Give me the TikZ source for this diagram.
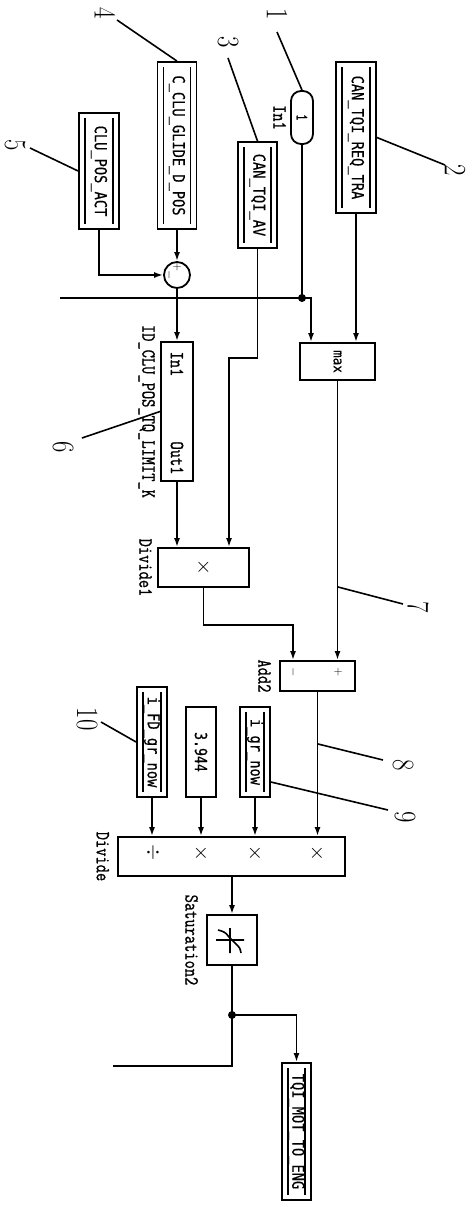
\documentclass[tikz,border=0pt]{standalone}
\usepackage{fontspec}
\usepackage{tikz}
\usetikzlibrary{arrows.meta,positioning}
\newfontfamily\tagfam[FakeBold=0.6]{DejaVu Sans Mono}
\newfontfamily\blkfam[FakeBold=1.2]{Latin Modern Mono}

% text turned a quarter turn and squeezed along its line
\newcommand{\vtext}[2][0.8]{\rotatebox{-90}{\scalebox{#1}[1]{#2}}}

\tikzset{
  blk/.style={draw, line width=1.8pt, inner sep=0pt, rectangle},
  tagbox/.style={blk, font=\tagfam\fontsize{16.5}{16.5}\selectfont,
    path picture={
      \draw[line width=1.6pt] ([xshift=6pt,yshift=-5pt]path picture bounding box.north west) -- ([xshift=6pt,yshift=5pt]path picture bounding box.south west);
      \draw[line width=1.6pt] ([xshift=-6pt,yshift=-5pt]path picture bounding box.north east) -- ([xshift=-6pt,yshift=5pt]path picture bounding box.south east);
    }},
  blkname/.style={font=\blkfam\fontsize{20}{20}\selectfont, inner sep=0pt},
  signtext/.style={font=\fontsize{13}{13}\selectfont, inner sep=0pt},
  sig/.style={line width=1.8pt, -{Latex[length=9pt,width=6pt]}},
  wire/.style={line width=1.8pt},
  leader/.style={line width=1.6pt},
  callout/.style={font=\fontsize{31}{31}\selectfont, inner sep=0pt},
  jdot/.style={circle, fill, inner sep=0pt, minimum size=8pt},
}

\begin{document}
\begin{tikzpicture}[x=1pt, y=-1pt]
    \useasboundingbox (0,0) rectangle (474,1207);

    % Source blocks along the top
    \node[tagbox, minimum width=40pt, minimum height=116pt] (posact) at (99,171) {\vtext[0.83]{CLU\_POS\_ACT}};
    \node[tagbox, minimum width=39pt, minimum height=167pt] (glide) at (177,145.5) {\vtext[0.83]{C\_CLU\_GLIDE\_D\_POS}};
    \node[tagbox, minimum width=39pt, minimum height=106pt] (tqiav) at (257.5,195) {\vtext[0.83]{CAN\_TQI\_AV}};
    \node[tagbox, minimum width=40pt, minimum height=151pt] (reqtra) at (356,137.5) {\vtext[0.83]{CAN\_TQI\_REQ\_TRA}};

    % Inport
    \node[blk, rounded corners=10pt, minimum width=22pt, minimum height=53pt, font=\blkfam\fontsize{17}{17}\selectfont] (inport) at (302,117.5) {\vtext{1}};
    \node[blkname, left=4pt of inport] (inportname) {\vtext{In1}};

    % Sum of glide position and actual position
    \node[draw, circle, line width=1.8pt, minimum size=26pt, inner sep=0pt] (sum) at (177,275) {};
    \node[signtext] (sumplus) at (177,267) {\vtext[1]{$+$}};
    \node[signtext] (summinus) at (169,275) {\vtext[1]{$-$}};

    % Subsystem
    \node[blk, minimum width=32pt, minimum height=139pt] (idclu) at (177,411.5) {};
    \node[blkname] (idcluin) at (177,364) {\vtext{In1}};
    \node[blkname] (idcluout) at (177,458) {\vtext{Out1}};
    \node[blkname, left=5pt of idclu] (idcluname) {\vtext{ID\_CLU\_POS\_TQ\_LIMIT\_K}};

    % max and product
    \node[blk, minimum width=75pt, minimum height=37pt, font=\tagfam\fontsize{14}{14}\selectfont] (max) at (337.5,361.5) {\vtext[0.9]{max}};
    \node[blk, minimum width=91pt, minimum height=39pt, font=\fontsize{20}{20}\selectfont] (div1) at (203.5,567.5) {$\times$};
    \node[blkname, left=5pt of div1] (div1name) {\vtext{Divide1}};

    % Add2
    \node[blk, minimum width=75pt, minimum height=30pt] (add2) at (317.5,676) {};
    \node[signtext] (addminus) at (293,672) {\vtext[1]{$-$}};
    \node[signtext] (addplus) at (338,672) {\vtext[1]{$+$}};
    \node[blkname, left=8pt of add2] (add2name) {\vtext{Add2}};

    % Gear ratios and constant
    \node[tagbox, minimum width=30pt, minimum height=110pt] (ifd) at (152,742) {\vtext[0.83]{i\_FD\_gr\_now}};
    \node[blk, minimum width=30pt, minimum height=90pt, font=\tagfam\fontsize{16.5}{16.5}\selectfont] (const) at (201,752) {\vtext[0.8]{3.944}};
    \node[tagbox, minimum width=30pt, minimum height=90pt] (igr) at (255,752) {\vtext[0.83]{i\_gr\_now}};

    % Divide
    \node[blk, minimum width=227pt, minimum height=39pt] (divide) at (231.5,856.5) {};
    \node[signtext, font=\fontsize{20}{20}\selectfont] (dvsign) at (153,853) {\vtext[1]{$\div$}};
    \node[signtext, font=\fontsize{20}{20}\selectfont] (mlsigna) at (201,853) {$\times$};
    \node[signtext, font=\fontsize{20}{20}\selectfont] (mlsignb) at (255,853) {$\times$};
    \node[signtext, font=\fontsize{20}{20}\selectfont] (mlsignc) at (317,853) {$\times$};
    \node[blkname, left=8pt of divide] (dividename) {\vtext{Divide}};

    % Saturation
    \node[blk, minimum width=50pt, minimum height=50pt] (sat) at (232,940) {};
    \draw[line width=1.6pt, shift={(sat.center)}] (-16,0) -- (12,0) (-2,-12) -- (-2,13)
        (-14,-10) .. controls (-7,-8) .. (-3,-3) -- (4,4) .. controls (8,8) .. (9,13);
    \node[blkname, left=8pt of sat] (satname) {\vtext{Saturation2}};

    % Output
    \node[tagbox, minimum width=29pt, minimum height=137pt] (tqimot) at (296.5,1131.5) {\vtext[0.83]{TQI\_MOT\_TO\_ENG}};

    % Bend points and branch points
    \coordinate (jin) at (302,298);
    \coordinate (freeL) at (60,298);
    \coordinate (avbend) at (229,358);
    \coordinate (d1bend) at (293,625);
    \coordinate (jout) at (232,1015);
    \coordinate (freeR) at (113,1066);
    \coordinate (w7) at (338,587);
    \coordinate (w8) at (318,744);

    % Signal lines
    \draw[sig] (glide.south) -- (sum.north);
    \draw[sig] (posact.south) |- (sum.west);
    \draw[sig] (sum.south) -- (idclu.north);
    \draw[wire] (inport.south) -- (jin);
    \draw[wire] (jin) -- (freeL);
    \draw[sig] (jin) -| ([xshift=-26.5pt]max.north);
    \draw[sig] (reqtra.south) -- (reqtra.south |- max.north);
    \draw[sig] (idclu.south) -- (idclu.south |- div1.north);
    \draw[sig] (tqiav.south) |- (avbend) -- (avbend |- div1.north);
    \draw[sig] (div1.south) |- (d1bend) -- (d1bend |- add2.north);
    \draw[sig] (max.south) -- (max.south |- add2.north);
    \draw[sig] (add2.south) -- (add2.south |- divide.north);
    \draw[sig] (ifd.south) -- (ifd.south |- divide.north);
    \draw[sig] (const.south) -- (const.south |- divide.north);
    \draw[sig] (igr.south) -- (igr.south |- divide.north);
    \draw[sig] (divide.south -| sat.north) -- (sat.north);
    \draw[wire] (sat.south) -- (jout);
    \draw[sig] (jout) -| (tqimot.north);
    \draw[wire] (jout) |- (freeR);
    \node[jdot] (jindot) at (jin) {};
    \node[jdot] (joutdot) at (jout) {};

    % Reference numerals
    \node[callout] (c1) at (277,14) {\vtext{1}};
    \node[callout] (c2) at (455,170) {\vtext{2}};
    \node[callout] (c3) at (228,42) {\vtext{3}};
    \node[callout] (c4) at (105,13) {\vtext{4}};
    \node[callout] (c5) at (15,145) {\vtext{5}};
    \node[callout] (c6) at (63,447) {\vtext{6}};
    \node[callout] (c7) at (418,607) {\vtext{7}};
    \node[callout] (c8) at (403,765) {\vtext{8}};
    \node[callout] (c9) at (405,817) {\vtext{9}};
    \node[callout] (c10) at (87,719) {\vtext{10}};
    \draw[leader] ([shift={(0,18)}]c1.center) -- (inport.north);
    \draw[leader] ([shift={(-10,-5)}]c2.center) -- (reqtra.east);
    \draw[leader] ([shift={(0,16)}]c3.center) -- (tqiav.north);
    \draw[leader] ([shift={(12,7)}]c4.center) -- (glide.north);
    \draw[leader] ([shift={(15,3)}]c5.center) -- (posact.west);
    \draw[leader] ([shift={(19,-9)}]c6.center) -- (idclu.west);
    \draw[leader] ([shift={(-15,-3)}]c7.center) -- (w7);
    \draw[leader] ([shift={(-20,-5)}]c8.center) -- (w8);
    \draw[leader] ([shift={(-17,-7)}]c9.center) -- ([yshift=-30pt]igr.east);
    \draw[leader] ([shift={(14,3)}]c10.center) -- (ifd.west);
\end{tikzpicture}
\end{document}
